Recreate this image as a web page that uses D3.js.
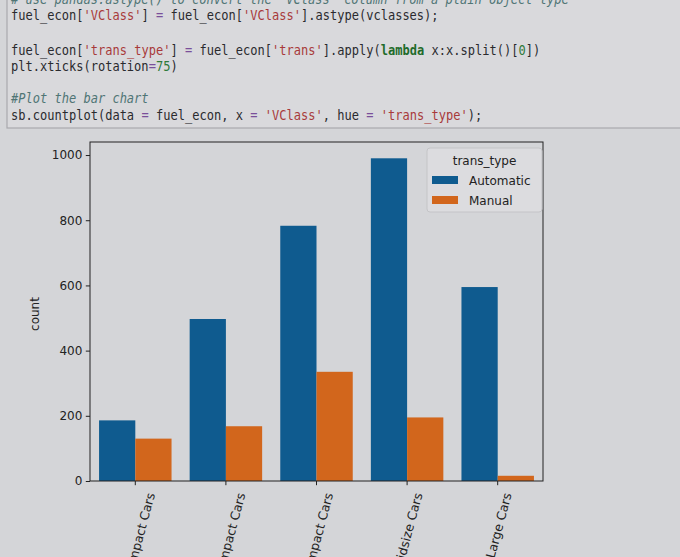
<!DOCTYPE html>
<html>
<head>
<meta charset="utf-8">
<script src="https://cdn.jsdelivr.net/npm/d3@7"></script>
<style>
  html, body { margin: 0; padding: 0; background: #d4d5d8; }
  svg { display: block; }
</style>
</head>
<body>
<svg id="chart" width="680" height="557"></svg>
<script>
// ---- data ----
const categories = ["Minicompact Cars", "Subcompact Cars", "Compact Cars", "Midsize Cars", "Large Cars"];
const transTypes = ["Automatic", "Manual"];
const automaticCounts = [186, 497, 783, 990, 595];
const manualCounts = [130, 168, 335, 195, 16];
const yTicks = [0, 200, 400, 600, 800, 1000];
const legendTitle = "trans_type";
const yLabel = "count";

// code cell lines: arrays of [text, style]
const codeLines = [
  [["# use pandas.astype() to convert the \"VClass\" column from a plain object type", "c"]],
  [["fuel_econ[", "n"], ["'VClass'", "s"], ["] ", "n"], ["=", "o"], [" fuel_econ[", "n"], ["'VClass'", "s"], ["].astype(vclasses);", "n"]],
  [],
  [["fuel_econ[", "n"], ["'trans_type'", "s"], ["] ", "n"], ["=", "o"], [" fuel_econ[", "n"], ["'trans'", "s"], ["].apply(", "n"], ["lambda", "k"], [" x:x.split()[", "n"], ["0", "m"], ["])", "n"]],
  [["plt.xticks(rotation", "n"], ["=", "o"], ["75", "m"], [")", "n"]],
  [],
  [["#Plot the bar chart", "c"]],
  [["sb.countplot(data ", "n"], ["=", "o"], [" fuel_econ, x ", "n"], ["=", "o"], [" ", "n"], ["'VClass'", "s"], [", hue ", "n"], ["=", "o"], [" ", "n"], ["'trans_type'", "s"], [");", "n"]]
];
const codeBaselines = [4, 20, 0, 55, 71, 0, 103, 120];

const colors = { Automatic: "#0f5b8f", Manual: "#d2661c" };
const codeColors = { n: "#2a2a2e", s: "#a8393a", o: "#7a4f9a", k: "#1f6b2a", m: "#2f7a3a", c: "#4f7575" };

const svg = d3.select("#chart");

// ---- code cell ----
svg.append("rect").attr("x", 7).attr("y", -5).attr("width", 690).attr("height", 133)
  .attr("fill", "#d9d9dc").attr("stroke", "#a9a9ad").attr("stroke-width", 1.2);

const codeFs = 14.5;
const charW = 7.25;
const sx = charW / (codeFs * 0.602);
const codeG = svg.append("g")
  .attr("transform", `scale(${sx},1)`)
  .attr("font-family", "'DejaVu Sans Mono', 'Liberation Mono', monospace")
  .attr("font-size", codeFs);
codeLines.forEach((segs, i) => {
  let col = 0;
  segs.forEach(([txt, st]) => {
    const lead = txt.length - txt.trimStart().length;
    const core = txt.trim();
    if (core.length) {
      codeG.append("text")
        .attr("x", (11 + (col + lead) * charW) / sx)
        .attr("y", codeBaselines[i])
        .attr("fill", codeColors[st])
        .attr("font-weight", st === "k" ? "bold" : null)
        .attr("font-style", st === "c" ? "italic" : null)
        .style("white-space", "pre")
        .text(core);
    }
    col += txt.length;
  });
});

// ---- chart ----
const plotL = 90, plotR = 543, plotT = 142, plotB = 481;

const x0 = d3.scaleBand().domain(categories).range([plotL, plotR]).paddingInner(0).paddingOuter(0);
const bw = x0.bandwidth();
const x1 = d3.scaleBand().domain(transTypes).range([0.1 * bw, 0.9 * bw]).padding(0);
const y = d3.scaleLinear().domain([0, 1040]).range([plotB, plotT]);

const rows = categories.map((c, i) => ({ cat: c, Automatic: automaticCounts[i], Manual: manualCounts[i] }));

const g = svg.append("g");
g.selectAll("g.cat").data(rows).join("g")
  .attr("class", "cat")
  .attr("transform", d => `translate(${x0(d.cat)},0)`)
  .selectAll("rect").data(d => transTypes.map(t => ({ t, v: d[t] }))).join("rect")
  .attr("x", d => x1(d.t))
  .attr("width", x1.bandwidth())
  .attr("y", d => y(d.v))
  .attr("height", d => y(0) - y(d.v))
  .attr("fill", d => colors[d.t]);

// y axis
const yAxis = d3.axisLeft(y).tickValues(yTicks).tickSize(4.2).tickPadding(3.5).tickFormat(d3.format("d"));
const ya = svg.append("g").attr("transform", `translate(${plotL},0)`).call(yAxis);
ya.select(".domain").remove();
ya.selectAll("line").attr("stroke", "#222").attr("stroke-width", 1);
ya.selectAll("text").attr("font-family", "'DejaVu Sans', sans-serif").attr("font-size", 12).attr("fill", "#222");

// x axis ticks
const xAxis = d3.axisBottom(x0).tickSize(4.2).tickFormat("");
const xa = svg.append("g").attr("transform", `translate(0,${plotB})`).call(xAxis);
xa.select(".domain").remove();
xa.selectAll("line").attr("stroke", "#222").attr("stroke-width", 1);

// rotated x labels (rotation 75, centered bbox below axis)
const fs = 12.5;
const lab = svg.append("g").attr("font-family", "'DejaVu Sans', sans-serif").attr("font-size", fs).attr("fill", "#222");
categories.forEach(c => {
  const t = lab.append("text").text(c).attr("text-anchor", "middle").attr("dominant-baseline", "central");
  const L = t.node().getComputedTextLength();
  const rad = 75 * Math.PI / 180;
  const H = L * Math.sin(rad) + fs * 1.1 * Math.cos(rad);
  const cx = x0(c) + bw / 2 + 1;
  const cy = plotB + 4.2 + 6 + H / 2;
  t.attr("transform", `translate(${cx},${cy}) rotate(-75)`);
});

// frame
svg.append("rect").attr("x", plotL).attr("y", plotT).attr("width", plotR - plotL).attr("height", plotB - plotT)
  .attr("fill", "none").attr("stroke", "#222").attr("stroke-width", 1);

// y label
svg.append("text").text(yLabel)
  .attr("transform", `translate(39,314) rotate(-90)`)
  .attr("text-anchor", "middle")
  .attr("font-family", "'DejaVu Sans', sans-serif").attr("font-size", 12).attr("fill", "#222");

// legend
const lg = svg.append("g").attr("font-family", "'DejaVu Sans', sans-serif").attr("font-size", 12).attr("fill", "#222");
lg.append("rect").attr("x", 427).attr("y", 148).attr("width", 115).attr("height", 64).attr("rx", 3)
  .attr("fill", "#dcdcdf").attr("stroke", "#c4c4c7");
lg.append("text").text(legendTitle).attr("x", 484.5).attr("y", 165).attr("text-anchor", "middle");
transTypes.forEach((t, i) => {
  const cy = 180 + i * 20;
  lg.append("rect").attr("x", 432).attr("y", cy - 4).attr("width", 26).attr("height", 8).attr("fill", colors[t]);
  lg.append("text").text(t).attr("x", 469).attr("y", cy + 4.5);
});
</script>
</body>
</html>
